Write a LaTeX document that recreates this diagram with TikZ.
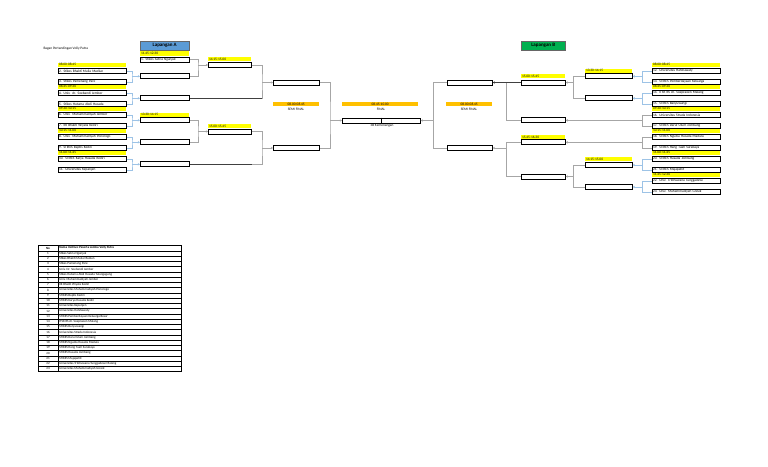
\documentclass[tikz,border=0pt]{standalone}
\usepackage{fontspec}
\setmainfont{Carlito}
\usetikzlibrary{arrows.meta}

\definecolor{barY}{HTML}{FFFF00}
\definecolor{barO}{HTML}{FFC000}
\definecolor{fieldA}{HTML}{5B9BD5}
\definecolor{fieldB}{HTML}{00B050}
\definecolor{lineB}{HTML}{9DC3E6}
\definecolor{lineG}{HTML}{A6A6A6}
\definecolor{lineD}{HTML}{404040}

\begin{document}
\begin{tikzpicture}[x=1pt, y=-1pt,
  every node/.style={inner ysep=0pt, font=\fontsize{3.5}{4}\selectfont},
  team/.style={draw, line width=0.7pt, fill=white, minimum height=5pt, inner xsep=0.8pt, text width=#1, align=left, anchor=west},
  slot/.style={fill=barY, minimum height=4.3pt, inner xsep=0.8pt, text width=#1, align=left, anchor=west},
  slotfin/.style={fill=barO, minimum height=4.3pt, inner xsep=0pt, text width=#1, align=center, anchor=west},
  field/.style={fill=#1, draw=black!60, line width=0.4pt, minimum height=9pt, inner xsep=0pt, align=center, anchor=west, font=\fontsize{5}{6}\selectfont\bfseries},
  lnb/.style={draw=lineB, line width=0.6pt},
  lng/.style={draw=lineG, line width=0.6pt},
  lnd/.style={draw=lineD, line width=1.1pt},
  tip/.style={-{Stealth[length=2.2pt,width=2.4pt]}},
  cell/.style={anchor=west, inner xsep=0.6pt, font=\fontsize{3.2}{4}\selectfont}]

\useasboundingbox[fill=white] (0,0) rectangle (768,466);

\node[anchor=west] (title) at (40,48.5) {Bagan Pertandingan Volly Putra};

% Lapangan A
\node[field=fieldA, minimum width=49pt] (fa) at (140,45.8) {Lapangan A};
\foreach \k/\nm in {2/Stikes Bhakti Mulia Madiun, 3/Stikes Pamenang Pare,
    4/Univ. dr. Soebandi Jember, 5/Stikes Hutama Abdi Husada,
    6/Univ. Muhammadiyah Jember, 7/IIK Bhakti Wiyata Kediri,
    8/Univ. Muhammadiyah Ponorogo, 9/STIKES Baptis Kediri,
    10/STIKES Karya Husada Kediri, 11/Universitas Kepanjen}
  \node[team=66.4pt] (t\k) at (58,{70.8+11*(\k-2)}) {\k. \nm};
\foreach \k/\tm in {2/08.00-08.45, 4/08.45-09.30, 6/09.30-10.15, 8/10.15-11.00, 10/11.00-11.45}
  \node[slot=66.4pt] (s\k) at (58,{64.8+11*(\k-2)}) {\tm};

\node[slot=47.4pt] (s1) at (140,53.5) {11.45-12.30};
\node[team=47.4pt] (t1) at (140,59.5) {1. Stikes Satria Nganjuk};
\node[team=47.4pt] (la1) at (140,76.3) {};
\node[team=47.4pt] (la2) at (140,98.3) {};
\node[slot=47.4pt] (sla3) at (140,114.8) {13.30-14.15};
\node[team=47.4pt] (la3) at (140,120.3) {};
\node[team=47.4pt] (la4) at (140,142.3) {};
\node[team=47.4pt] (la5) at (140,164.3) {};

\node[slot=41.4pt] (sqa1) at (208,59) {14.15-15.00};
\node[team=41.4pt] (qa1) at (208,65) {};
\node[slot=41.4pt] (sqa2) at (208,126) {15.00-15.45};
\node[team=41.4pt] (qa2) at (208,131.5) {};

\node[team=44.4pt] (sa1) at (273,82.5) {};
\node[slotfin=46pt] (ssa) at (273,104) {08.00-08.45};
\node (lsa) at (296,109.5) {SEMI FINAL};
\node[team=44.4pt] (sa2) at (273,148) {};

% final
\node[slotfin=76pt] (sfin) at (342,104) {08.45-10.00};
\node (lfin) at (381,109.5) {FINAL};
\node[team=76.4pt] (fin) at (342,120.5) {};
\draw[line width=0.7pt] (fin.north) -- (fin.south);
\node (fin3) at (382,125.8) {3B Kemenangan};

% Lapangan B
\node[field=fieldB, minimum width=44pt] (fb) at (521,45.5) {Lapangan B};
\node[team=43.4pt] (sb1) at (447,82.5) {};
\node[slotfin=46pt] (ssb) at (446,104) {08.00-08.45};
\node (lsb) at (469,109.5) {SEMI FINAL};
\node[team=43.4pt] (sb2) at (447,148) {};

\node[slot=42.4pt] (sqb1) at (521,76) {15.00-15.45};
\node[team=42.4pt] (qb1) at (521,82.5) {};
\node[team=42.4pt] (qb2) at (521,120.3) {};
\node[slot=42.4pt] (sqb3) at (521,137) {15.45-16.30};
\node[team=42.4pt] (qb3) at (521,142.3) {};
\node[team=42.4pt] (qb4) at (521,176.5) {};

\node[slot=45.4pt] (spb1) at (585,70.8) {13.30-14.15};
\node[team=45.4pt] (pb1) at (585,76.3) {};
\node[team=45.4pt] (pb2) at (585,98.3) {};
\node[slot=45.4pt] (spb3) at (585,159.3) {14.15-15.00};
\node[team=45.4pt] (pb3) at (585,165) {};
\node[team=45.4pt] (pb4) at (585,187) {};

\foreach \k/\nm in {12/Universitas Hafshawaty, 13/STIKES Pemberdayaan Keluarga,
    14/ITSK RS dr. Soepraoen Malang, 15/STIKES Banyuwangi,
    16/Universitas Strada Indonesia, 17/STIKES Darul Ulum Jombang,
    18/STIKES Ngudia Husada Madura, 19/STIKES Hang Tuah Surabaya,
    20/STIKES Husada Jombang, 21/STIKES Majapahit,
    22/Univ. Tribhuwana Tunggadewi, 23/Univ. Muhammadiyah Gresik}
  \node[team=66.4pt] (t\k) at (652,{70.8+11*(\k-12)}) {\k. \nm};
\foreach \k/\tm in {12/08.00-08.45, 14/08.45-09.30, 16/09.30-10.15, 18/10.15-11.00, 20/11.00-11.45, 22/11.45-12.30}
  \node[slot=66.4pt] (s\k) at (652,{64.8+11*(\k-12)}) {\tm};

% brackets, side A
\foreach \a/\b/\w in {2/3/la1, 4/5/la2, 6/7/la3, 8/9/la4, 10/11/la5} {
  \draw[lnb] (t\a.east) -| ([xshift=-8pt]\w.west) |- (t\b.east);
  \draw[lnb,tip] ([xshift=-8pt]\w.west) -- (\w.west);
}
\draw[lng] (t1.east) -| ([xshift=-10pt]qa1.west) |- (la1.east);
\draw[lng,tip] ([xshift=-10pt]qa1.west) -- (qa1.west);
\draw[lng] (la3.east) -| ([xshift=-10pt]qa2.west) |- (la4.east);
\draw[lng,tip] ([xshift=-10pt]qa2.west) -- (qa2.west);
\coordinate (ja1) at ([xshift=-11pt]sa1.west);
\coordinate (ja2) at ([xshift=-11pt]sa2.west);
\draw[lng] (qa1.east) -| (ja1) |- (la2.east);
\draw[lnd] (la2.east) -- (la2.east -| ja1);
\draw[lng,tip] (ja1) -- (sa1.west);
\draw[lng] (qa2.east) -| (ja2) |- (la5.east);
\draw[lnd] (la5.east) -- (qa2.east |- la5.east);
\draw[lng,tip] (ja2) -- (sa2.west);
\draw[lng] (sa1.east) -| ([xshift=-12pt]fin.west) |- (sa2.east);
\draw[lng,tip] ([xshift=-12pt]fin.west) -- (fin.west);

% brackets, side B
\draw[lng] (sb1.west) -| ([xshift=13pt]fin.east) |- (sb2.west);
\draw[lng,tip] ([xshift=13pt]fin.east) -- (fin.east);
\draw[lng] (qb1.west) -| ([xshift=14pt]sb1.east) |- (qb2.west);
\draw[lnd,tip] (qb1.west) -- (sb1.east);
\draw[lng] (qb3.west) -| ([xshift=14pt]sb2.east) |- (qb4.west);
\draw[lng,tip] ([xshift=14pt]sb2.east) -- (sb2.east);
\draw[lng] (pb1.west) -| ([xshift=8pt]qb1.east) |- (pb2.west);
\draw[lng,tip] ([xshift=8pt]qb1.east) -- (qb1.east);
\draw[lng] (pb3.west) -| ([xshift=8pt]qb4.east) |- (pb4.west);
\draw[lng,tip] ([xshift=8pt]qb4.east) -- (qb4.east);
\foreach \a/\b/\w in {12/13/pb1, 14/15/pb2, 20/21/pb3, 22/23/pb4} {
  \draw[lnb] (t\a.west) -| ([xshift=10pt]\w.east) |- (t\b.west);
  \draw[lnb,tip] ([xshift=10pt]\w.east) -- (\w.east);
}
\foreach \a/\b/\w in {16/17/qb2, 18/19/qb3} {
  \draw[lng] (t\a.west) -| ([xshift=77pt]\w.east) |- (t\b.west);
  \draw[lng,tip] ([xshift=77pt]\w.east) -- (\w.east);
}

% daftar peserta
\node[cell, anchor=center, font=\fontsize{3.2}{4}\selectfont\bfseries] (hno) at (48,248.1) {No};
\node[cell, font=\fontsize{3.2}{4}\selectfont\bfseries] (hnm) at (58.5,248.1) {Nama Institusi Peserta Lomba Volly Putra};
\foreach \nm [count=\i] in {Stikes Satria Nganjuk, Stikes Bhakti Mulia Madiun, Stikes Pamenang Pare,
    Univ. Dr. Soebandi Jember, Stikes Hutama Abdi Husada Tulungagung, Univ. Muhammadiyah Jember,
    IIK Bhakti Wiyata Kediri, Universitas Muhammadiyah Ponorogo, STIKES Baptis Kediri,
    STIKES Karya Husada Kediri, Universitas Kepanjen, Universitas Hafshawaty,
    STIKES Pemberdayaan Keluarga Besar, ITSK RS dr. Soepraoen Malang, STIKES Banyuwangi,
    Universitas Strada Indonesia, STIKES Darul Ulum Jombang, STIKES Ngudia Husada Madura,
    STIKES Hang Tuah Surabaya, STIKES Husada Jombang, STIKES Majapahit,
    Universitas Tribhuwana Tunggadewi Malang, Universitas Muhammadiyah Gresik} {
  \node[cell, anchor=center] (no\i) at (48,{248.1+5.25*\i}) {\i};
  \node[cell] (nm\i) at (58.5,{248.1+5.25*\i}) {\nm};
  \draw[line width=0.5pt] (38,{245.5+5.25*\i}) -- (181,{245.5+5.25*\i});
}
\draw[line width=0.9pt] (38,245.5) rectangle (181,371.5);
\draw[line width=0.6pt] (58,245.5) -- (58,371.5);
\end{tikzpicture}
\end{document}
